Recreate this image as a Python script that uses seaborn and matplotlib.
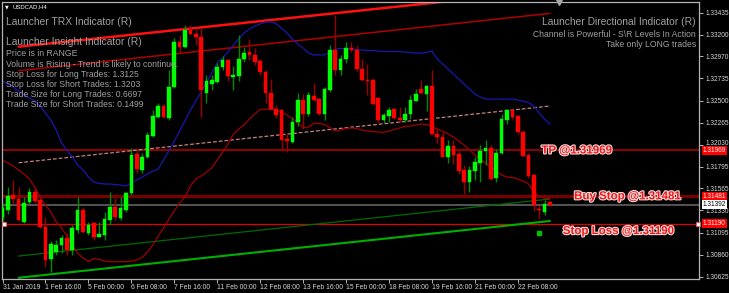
import matplotlib
matplotlib.use("Agg")
import matplotlib.pyplot as plt
import matplotlib.patheffects as pe
import matplotlib.transforms as mtrans
import numpy as np
import pandas as pd
import seaborn as sns

# ---------------- data (USDCAD H4) ----------------
opens = [1.31260, 1.31335, 1.31494, 1.31452, 1.31212, 1.31420, 1.31526, 1.31441, 1.31154, 1.30813,
         1.30893, 1.30962, 1.31037, 1.30909, 1.31122, 1.31335, 1.31090, 1.31196, 1.31053, 1.31069,
         1.31228, 1.31372, 1.31250, 1.31335, 1.31516, 1.31931, 1.31761, 1.31899, 1.32122, 1.32325,
         1.32442, 1.32314, 1.32644, 1.33128, 1.33075, 1.33251, 1.33213, 1.33181, 1.32580, 1.32681,
         1.32697, 1.32857, 1.32931, 1.32756, 1.32761, 1.32937, 1.33022, 1.32985, 1.32921, 1.32809,
         1.32580, 1.32415, 1.32399, 1.32096, 1.32064, 1.32271, 1.32506, 1.32362, 1.32548, 1.32516,
         1.32362, 1.32617, 1.33043, 1.32820, 1.32937, 1.33064, 1.33038, 1.32841, 1.32724, 1.32724,
         1.32532, 1.32293, 1.32335, 1.32410, 1.32319, 1.32293, 1.32357, 1.32500, 1.32628, 1.32570,
         1.32655, 1.32149, 1.32117, 1.31904, 1.32011, 1.31926, 1.31761, 1.31628, 1.31745, 1.31840,
         1.31968, 1.32000, 1.31681, 1.31947, 1.32298, 1.32399, 1.32335, 1.32170, 1.31920, 1.31707,
         1.31351, 1.31319, 1.31415]
highs = [1.31409, 1.31580, 1.31654, 1.31580, 1.31473, 1.31569, 1.31580, 1.31494, 1.31260, 1.31005,
         1.31015, 1.31069, 1.31090, 1.31175, 1.31473, 1.31372, 1.31212, 1.31212, 1.31212, 1.31319,
         1.31532, 1.31462, 1.31478, 1.31532, 1.31995, 1.31973, 1.31942, 1.32170, 1.32399, 1.32474,
         1.32463, 1.32825, 1.33166, 1.33198, 1.33304, 1.33304, 1.33251, 1.33272, 1.32772, 1.32772,
         1.32899, 1.32969, 1.32942, 1.32867, 1.33198, 1.33075, 1.33150, 1.33059, 1.32937, 1.32825,
         1.32734, 1.32452, 1.32410, 1.32154, 1.32330, 1.32580, 1.32570, 1.32591, 1.32687, 1.32522,
         1.32644, 1.33091, 1.33410, 1.32985, 1.33128, 1.33128, 1.33091, 1.32947, 1.32889, 1.32745,
         1.32543, 1.32367, 1.32431, 1.32426, 1.32431, 1.32431, 1.32559, 1.32628, 1.32724, 1.32665,
         1.32820, 1.32202, 1.32170, 1.32080, 1.32080, 1.31973, 1.31814, 1.31803, 1.31904, 1.32027,
         1.32075, 1.32027, 1.31989, 1.32362, 1.32415, 1.32415, 1.32346, 1.32186, 1.31942, 1.31723,
         1.31388, 1.31441, 1.31431]
lows = [1.31218, 1.31292, 1.31399, 1.31218, 1.31196, 1.31404, 1.31409, 1.31143, 1.30728, 1.30680,
        1.30856, 1.30877, 1.30856, 1.30856, 1.31090, 1.31090, 1.31069, 1.31015, 1.31047, 1.31015,
        1.31175, 1.31228, 1.31228, 1.31319, 1.31494, 1.31729, 1.31729, 1.31888, 1.32112, 1.32314,
        1.32314, 1.32293, 1.32633, 1.33006, 1.33059, 1.33198, 1.33091, 1.32330, 1.32474, 1.32612,
        1.32687, 1.32825, 1.32703, 1.32612, 1.32703, 1.32915, 1.32931, 1.32878, 1.32772, 1.32474,
        1.32399, 1.32314, 1.31973, 1.31957, 1.32048, 1.32224, 1.32197, 1.32335, 1.32495, 1.32346,
        1.32293, 1.32591, 1.32772, 1.32772, 1.32899, 1.33017, 1.32814, 1.32703, 1.32559, 1.32452,
        1.32261, 1.32261, 1.32277, 1.32309, 1.32277, 1.32277, 1.32303, 1.32490, 1.32575, 1.32394,
        1.32133, 1.32053, 1.31894, 1.31835, 1.31824, 1.31718, 1.31505, 1.31532, 1.31654, 1.31628,
        1.31814, 1.31654, 1.31628, 1.31936, 1.32250, 1.32309, 1.32149, 1.31899, 1.31681, 1.31329,
        1.31244, 1.31282, 1.31377]
closes = [1.31356, 1.31484, 1.31452, 1.31228, 1.31409, 1.31526, 1.31431, 1.31154, 1.30808, 1.30973,
          1.30962, 1.31037, 1.30909, 1.31143, 1.31335, 1.31106, 1.31175, 1.31053, 1.31079, 1.31239,
          1.31372, 1.31260, 1.31356, 1.31516, 1.31920, 1.31771, 1.31899, 1.32133, 1.32335, 1.32442,
          1.32325, 1.32644, 1.33128, 1.33075, 1.33251, 1.33213, 1.33176, 1.32612, 1.32703, 1.32718,
          1.32862, 1.32931, 1.32761, 1.32772, 1.32942, 1.33011, 1.32985, 1.32915, 1.32809, 1.32580,
          1.32410, 1.32346, 1.32080, 1.32069, 1.32277, 1.32506, 1.32357, 1.32559, 1.32506, 1.32362,
          1.32628, 1.33043, 1.32820, 1.32947, 1.33064, 1.33038, 1.32836, 1.32718, 1.32713, 1.32468,
          1.32293, 1.32346, 1.32404, 1.32319, 1.32293, 1.32362, 1.32506, 1.32575, 1.32585, 1.32655,
          1.32149, 1.32117, 1.31904, 1.32016, 1.31920, 1.31755, 1.31628, 1.31761, 1.31851, 1.31968,
          1.32000, 1.31670, 1.31947, 1.32309, 1.32399, 1.32330, 1.32170, 1.31910, 1.31697, 1.31388,
          1.31335, 1.31404, 1.31392]

# upper (blue) and lower (dark red) adaptive bands
blue_band = [1.32708, 1.32676, 1.32644, 1.32601, 1.32559, 1.32527, 1.32495, 1.32442, 1.32367, 1.32293,
             1.32186, 1.32048, 1.31973, 1.31899, 1.31814, 1.31761, 1.31686, 1.31633, 1.31617, 1.31612,
             1.31612, 1.31606, 1.31601, 1.31590, 1.31622, 1.31654, 1.31686, 1.31718, 1.31750, 1.31771,
             1.31867, 1.31963, 1.32069, 1.32176, 1.32282, 1.32399, 1.32495, 1.32591, 1.32697, 1.32793,
             1.32899, 1.32953, 1.33017, 1.33091, 1.33155, 1.33219, 1.33261, 1.33293, 1.33315, 1.33336,
             1.33336, 1.33315, 1.33272, 1.33219, 1.33155, 1.33102, 1.33059, 1.33006, 1.32985, 1.32985,
             1.32985, 1.33017, 1.33048, 1.33054, 1.33054, 1.33048, 1.33043, 1.33038, 1.33033, 1.33033,
             1.33027, 1.33022, 1.33022, 1.33022, 1.33020, 1.33017, 1.33011, 1.33006, 1.33006, 1.33011,
             1.33027, 1.32942, 1.32889, 1.32836, 1.32782, 1.32729, 1.32676, 1.32623, 1.32570, 1.32538,
             1.32516, 1.32516, 1.32516, 1.32516, 1.32516, 1.32516, 1.32506, 1.32495, 1.32479, 1.32442,
             1.32367, 1.32303, 1.32250]
red_band = [1.31862, 1.31835, 1.31803, 1.31761, 1.31718, 1.31665, 1.31580, 1.31473, 1.31388, 1.31314,
            1.31207, 1.31143, 1.31058, 1.30962, 1.30877, 1.30824, 1.30787, 1.30819, 1.30808, 1.30792,
            1.30785, 1.30785, 1.30785, 1.30785, 1.30792, 1.30803, 1.30829, 1.30888, 1.30962, 1.31058,
            1.31143, 1.31239, 1.31324, 1.31409, 1.31473, 1.31590, 1.31665, 1.31697, 1.31739, 1.31782,
            1.31867, 1.31952, 1.32037, 1.32144, 1.32197, 1.32240, 1.32303, 1.32357, 1.32407, 1.32407,
            1.32407, 1.32399, 1.32378, 1.32346, 1.32309, 1.32261, 1.32213, 1.32218, 1.32256, 1.32256,
            1.32245, 1.32213, 1.32176, 1.32186, 1.32202, 1.32208, 1.32202, 1.32186, 1.32176, 1.32170,
            1.32165, 1.32162, 1.32176, 1.32192, 1.32208, 1.32224, 1.32229, 1.32240, 1.32250, 1.32245,
            1.32224, 1.32197, 1.32176, 1.32144, 1.32112, 1.32069, 1.32027, 1.31973, 1.31920, 1.31878,
            1.31835, 1.31792, 1.31750, 1.31707, 1.31686, 1.31681, 1.31665, 1.31643, 1.31612, 1.31526,
            1.31478, 1.31462, 1.31457]

# regression channel lines (start bar, end bar)
channel_bars = [3, 102]
chan_upper_red = [1.33073, 1.33672]
chan_upper_dark = [1.32817, 1.33428]
chan_mid = [1.31838, 1.32442]
chan_lower_dark = [1.30845, 1.31452]
chan_lower_green = [1.30614, 1.31218]

# trade levels
tp_level = 1.31969
buy_stop = 1.31481
current_price = 1.31392
stop_loss = 1.31190
signal_bar = 100
signal_price = 1.31090

price_ticks = [1.33435, 1.33200, 1.32970, 1.32735, 1.32500, 1.32265, 1.32030,
               1.31795, 1.31565, 1.31330, 1.31095, 1.30860, 1.30625]
date_tick_bars = [0, 8, 16, 24, 32, 40, 48, 56, 64, 72, 80, 88, 96]
date_tick_labels = ["31 Jan 2019", "1 Feb 16:00", "5 Feb 00:00", "6 Feb 08:00", "7 Feb 16:00",
                    "11 Feb 00:00", "12 Feb 08:00", "13 Feb 16:00", "15 Feb 00:00",
                    "18 Feb 08:00", "19 Feb 16:00", "21 Feb 00:00", "22 Feb 08:00"]

left_lines = ["Price is in RANGE",
              "Volume is Rising - Trend is likely to continue.",
              "Stop Loss for Long Trades: 1.3125",
              "Stop Loss for Short Trades: 1.3203",
              "Trade Size for Long Trades: 0.6697",
              "Trade Size for Short Trades: 0.1499"]
right_lines = ["Channel is Powerful - S\\R Levels In Action", "Take only LONG trades"]

# ---------------- style ----------------
sns.set_theme(style="dark", rc={"axes.facecolor": "black", "figure.facecolor": "black",
                                "axes.grid": False})
plt.rcParams["font.family"] = ["Liberation Sans", "DejaVu Sans"]

W, H = 729, 293
fig = plt.figure(figsize=(W / 100, H / 100), dpi=100)
ax = fig.add_axes([2 / W, 1 - 278.5 / H, 697 / W, 276.5 / H])
ax.set_facecolor("black")
ax.set_xlim(-0.1, 129.77)
ax.set_ylim(1.30606, 1.33549)

def fx(x):
    return x / W

def fy(y):
    return 1 - y / H

bars = np.arange(len(opens))
df = pd.DataFrame({"bar": bars, "open": opens, "high": highs, "low": lows, "close": closes,
                   "blue": blue_band, "red": red_band})

# horizontal trade levels
ax.axhline(tp_level, color="#A00000", lw=1.3, zorder=1)
ax.axhline(buy_stop, color="#7A0000", lw=2.2, zorder=1)
ax.axhline(current_price, color="#5A5A5A", lw=1.3, zorder=1)
ax.axhline(stop_loss, color="#E00000", lw=0.9, zorder=1)

# channel
cdf = pd.DataFrame({"bar": channel_bars, "ur": chan_upper_red, "ud": chan_upper_dark,
                    "mid": chan_mid, "ld": chan_lower_dark, "lg": chan_lower_green})
sns.lineplot(data=cdf, x="bar", y="ur", ax=ax, color="#FF1010", lw=1.8, legend=False, zorder=2)
sns.lineplot(data=cdf, x="bar", y="ud", ax=ax, color="#B00000", lw=1.1, legend=False, zorder=2)
sns.lineplot(data=cdf, x="bar", y="mid", ax=ax, color="#C88080", lw=0.9, legend=False, zorder=2)
ax.lines[-1].set_dashes((3.0, 1.6))
sns.lineplot(data=cdf, x="bar", y="ld", ax=ax, color="#006A00", lw=0.9, legend=False, zorder=2)
sns.lineplot(data=cdf, x="bar", y="lg", ax=ax, color="#00B000", lw=1.5, legend=False, zorder=2)

# bands
sns.lineplot(data=df, x="bar", y="blue", ax=ax, color="#1818B0", lw=0.9, legend=False, zorder=2)
sns.lineplot(data=df, x="bar", y="red", ax=ax, color="#A00000", lw=0.9, legend=False, zorder=2)

# candles
up = df["close"] >= df["open"]
body_col = np.where(up, "#00FF00", "#FF0000")
wick_col = np.where(up, "#008A00", "#9A0000")
ax.vlines(df["bar"], df["low"], df["high"], colors=wick_col, lw=1.0, zorder=3)
heights = (df["close"] - df["open"]).to_numpy()
heights = np.where(np.abs(heights) < 0.00002, np.where(up, 0.00002, -0.00002), heights)
ax.bar(df["bar"], heights, bottom=df["open"], width=0.68, color=body_col,
       edgecolor=body_col, linewidth=0.3, zorder=4)

# markers
ax.plot([signal_bar], [signal_price], marker="s", ms=3.2, color="#00C000", ls="none", zorder=5)
ax.plot([0.25], [stop_loss], marker="s", ms=3, mfc="white", mec="#FF5050", mew=0.6,
        ls="none", zorder=5, clip_on=False)
ax.plot([129.6], [stop_loss], marker="s", ms=3, mfc="white", mec="#FF5050", mew=0.6,
        ls="none", zorder=5, clip_on=False)
ax.plot([103.7], [1.33549], marker="v", ms=5, color="#A8A8A8", ls="none", zorder=6, clip_on=False)

# trade annotations
stroke = [pe.withStroke(linewidth=1.6, foreground="#F4D8D8")]
ax.text(100.4, tp_level, "TP @1.31969", color="#F01818", fontsize=8.3, fontweight="bold",
        va="center", ha="left", path_effects=stroke, zorder=7)
ax.text(106.5, buy_stop, "Buy Stop @1.31481", color="#F01818", fontsize=8.3, fontweight="bold",
        va="center", ha="left", path_effects=stroke, zorder=7)
ax.text(104.4, 1.31111, "Stop Loss @1.31190", color="#F01818", fontsize=8.3, fontweight="bold",
        va="center", ha="left", path_effects=stroke, zorder=7)

# axes styling
for s in ax.spines.values():
    s.set_color("#B4B4B4")
    s.set_linewidth(0.9)
ax.yaxis.tick_right()
ax.set_yticks(price_ticks)
ax.set_yticklabels([f"{p:.5f}" for p in price_ticks])
ax.set_xticks(date_tick_bars)
ax.set_xticklabels(date_tick_labels, ha="left")
ax.tick_params(axis="y", which="both", right=True, left=False, length=3, width=0.7,
               color="#B4B4B4", labelcolor="#D8D8D8", labelsize=4.7, pad=1.5)
ax.tick_params(axis="x", which="both", bottom=True, length=3, width=0.7,
               color="#B4B4B4", labelcolor="#D8D8D8", labelsize=4.9, pad=1.2)
ax.set_xlabel("")
ax.set_ylabel("")

# nudge the axis label that sits just above the TP price box
lift = mtrans.ScaledTranslation(0, 1.8 / 100, fig.dpi_scale_trans)
for lbl, p in zip(ax.get_yticklabels(), price_ticks):
    if abs(p - 1.32030) < 1e-7:
        lbl.set_transform(lbl.get_transform() + lift)

# price boxes on the right axis
bt = mtrans.blended_transform_factory(fig.transFigure, ax.transData)
for p, txt, fc, tc in [(tp_level, "1.31969", "#FF0000", "white"),
                       (buy_stop, "1.31481", "#FF0000", "white"),
                       (current_price, "1.31392", "white", "black"),
                       (stop_loss, "1.31190", "#FF0000", "white")]:
    ax.text(fx(703), p, txt, transform=bt, fontsize=4.7, color=tc, va="center", ha="left",
            bbox=dict(boxstyle="square,pad=0.15", fc=fc, ec="none"), clip_on=False, zorder=8)

# header texts
fig.text(fx(5), fy(6.5), "\u25bc", color="white", fontsize=3.5, va="center", ha="left",
         family=["DejaVu Sans"])
fig.text(fx(12), fy(6.5), "USDCAD,H4", color="white", fontsize=4.3, va="center", ha="left")

txt_col = "#A0A0A0"
fig.text(fx(6), fy(22), "Launcher TRX Indicator (R)", color=txt_col, fontsize=7.35,
         va="center", ha="left", zorder=1)
fig.text(fx(6), fy(42), "Launcher Insight Indicator (R)", color=txt_col, fontsize=7.35,
         va="center", ha="left", zorder=1)
for k, line in enumerate(left_lines):
    fig.text(fx(6), fy(54 + 10.05 * k), line, color=txt_col, fontsize=6.2,
             va="center", ha="left", zorder=1)

fig.text(fx(696), fy(22), "Launcher Directional Indicator (R)", color=txt_col, fontsize=7.35,
         va="center", ha="right")
for k, line in enumerate(right_lines):
    fig.text(fx(696), fy(34.3 + 10 * k), line, color=txt_col, fontsize=6.2,
             va="center", ha="right")

fig.savefig("out.png", dpi=100, facecolor="black")
